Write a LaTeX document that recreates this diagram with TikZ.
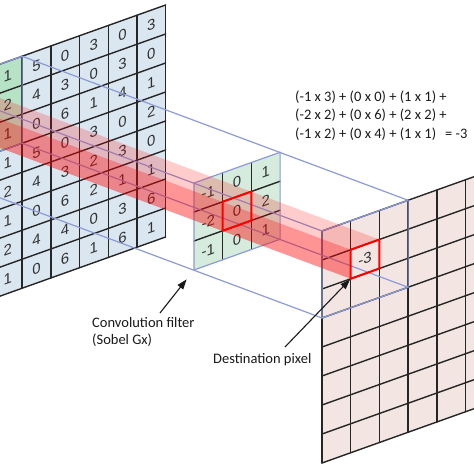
\documentclass[tikz,border=0pt]{standalone}
\usepackage{fontspec}
\setmainfont{Carlito}
\newfontfamily\digitfont{Liberation Sans}
\usetikzlibrary{arrows.meta}
\definecolor{srcfill}{RGB}{218,230,240}
\definecolor{patchfill}{RGB}{182,226,198}
\definecolor{filtfill}{RGB}{213,235,220}
\definecolor{destfill}{RGB}{243,230,226}
\definecolor{framecol}{RGB}{140,155,215}
\definecolor{numcol}{RGB}{50,50,50}
\definecolor{txtcol}{RGB}{25,25,25}
\tikzset{
  gridln/.style={line width=1.4pt, draw=black!85, line cap=round},
  frameln/.style={line width=1.2pt, draw=framecol, line join=round},
  digit/.style={font=\digitfont\fontsize{15}{15}\selectfont, text=numcol, yslant=0.36, inner sep=0pt},
  lbl/.style={font=\fontsize{14.5}{18}\selectfont, text=txtcol, inner sep=0pt, anchor=base west},
  pix/.style={line width=2pt, draw=red, line join=round},
  ptr/.style={line width=1.1pt, draw=black!90, -{Triangle[length=10pt,width=7pt]}},
  topface/.style={fill=red, fill opacity=0.2},
  sideface/.style={fill=red, fill opacity=0.42},
  skew/.style={x={(28.7,-10.25)}, y={(0,29)}},
}
\begin{document}
\begin{tikzpicture}[x=1pt,y=-1pt]
\useasboundingbox (0,0) rectangle (474,474);
\clip (0,0) rectangle (474,474);
% ---------------- source grid ----------------
\begin{scope}[shift={(-64,87)}, skew]
  \fill[srcfill] (0,0) -- (8,0) -- (8,8) -- (0,8) -- cycle;
  \fill[patchfill] (0,0) -- (3,0) -- (3,3) -- (0,3) -- cycle;
  \foreach \i in {0,...,8} \draw[gridln] (\i,0) -- (\i,8);
  \foreach \j in {0,...,8} \draw[gridln] (0,\j) -- (8,\j);
  \draw[frameln] (0,0) -- (3,0) -- (3,3) -- (0,3) -- cycle;
  \foreach \col [count=\c from 0] in {{1,2,1,1,2,1,2,1},{5,4,0,5,4,0,4,0},{0,3,6,0,3,6,4,6},{3,0,1,3,2,2,0,1},{0,3,4,0,3,1,3,6},{3,0,1,2,0,1,6,1}}
    {\foreach \v [count=\r from 0] in \col
      {\node[digit] (s\c-\r) at ({\c+2.5},{\r+0.5}) {\v};}}
  \coordinate (sA) at (0,0); \coordinate (sB) at (3,0);
  \coordinate (sC) at (3,3); \coordinate (sD) at (0,3);
  \coordinate (sc1) at (1,1); \coordinate (sc2) at (2,1); \coordinate (sc3) at (1,2);
\end{scope}
% ---------------- filter ----------------
\begin{scope}[shift={(194,183)}, skew]
  \fill[filtfill] (0,0) -- (3,0) -- (3,3) -- (0,3) -- cycle;
  \foreach \i in {1,2} \draw[gridln] (\i,0) -- (\i,3);
  \foreach \j in {1,2} \draw[gridln] (0,\j) -- (3,\j);
  \draw[frameln] (0,0) -- (3,0) -- (3,3) -- (0,3) -- cycle;
  \foreach \row [count=\r from 0] in {{-1,0,1},{-2,0,2},{-1,0,1}}
    {\foreach \v [count=\c from 0] in \row
      {\node[digit] (f\c-\r) at ({\c+0.5},{\r+0.5}) {\v};}}
  \coordinate (fA) at (0,0); \coordinate (fB) at (3,0);
  \coordinate (fC) at (3,3); \coordinate (fD) at (0,3);
\end{scope}
% ---------------- destination ----------------
\begin{scope}[shift={(322,231)}, skew]
  \fill[destfill] (0,0) -- (6,0) -- (6,8) -- (0,8) -- cycle;
  \foreach \i in {0,...,6} \draw[gridln] (\i,0) -- (\i,8);
  \foreach \j in {0,...,8} \draw[gridln] (0,\j) -- (6,\j);
  \draw[frameln] (0,0) -- (3,0) -- (3,3) -- (0,3) -- cycle;
  \coordinate (dA) at (0,0); \coordinate (dB) at (3,0);
  \coordinate (dC) at (3,3); \coordinate (dD) at (0,3);
  \coordinate (dc1) at (1,1); \coordinate (dc2) at (2,1); \coordinate (dc3) at (1,2);
\end{scope}
% ---------------- projection lines ----------------
\draw[frameln] (sA) -- (dA);
\draw[frameln] (sB) -- (dB);
\draw[frameln] (sC) -- (dC);
\draw[frameln] (sD) -- (dD);
% ---------------- beam ----------------
\fill[topface] (sc1) -- (sc2) -- (dc2) -- (dc1) -- cycle;
\fill[sideface] (sc1) -- (sc3) -- (dc3) -- (dc1) -- cycle;
% ---------------- highlighted pixels ----------------
\begin{scope}[shift={(194,183)}, skew]
  \draw[pix] (1,1) -- (2,1) -- (2,2) -- (1,2) -- cycle;
\end{scope}
\begin{scope}[shift={(322,231)}, skew]
  \draw[pix] (1,1) -- (2,1) -- (2,2) -- (1,2) -- cycle;
  \node[digit] (res) at (1.5,1.5) {-3};
\end{scope}
% ---------------- labels ----------------
\node[lbl] (conv) at (92,327.5) {Convolution filter};
\node[lbl] (sobel) at (92,344) {(Sobel Gx)};
\node[lbl] (destl) at (213,363) {Destination pixel};
\coordinate (a1s) at (160,313);
\coordinate (a2s) at (285,347);
\draw[ptr, shorten >=12pt] (a1s) -- (fD);
\draw[ptr, shorten >=1pt] (a2s) -- (dc3);
\node[lbl] (f1) at (295,101) {(-1 x 3) + (0 x 0) + (1 x 1) +};
\node[lbl] (f2) at (295,119.5) {(-2 x 2) + (0 x 6) + (2 x 2) +};
\node[lbl] (f3) at (295,138) {(-1 x 2) + (0 x 4) + (1 x 1)\hspace{9pt}= -3};
\end{tikzpicture}
\end{document}
